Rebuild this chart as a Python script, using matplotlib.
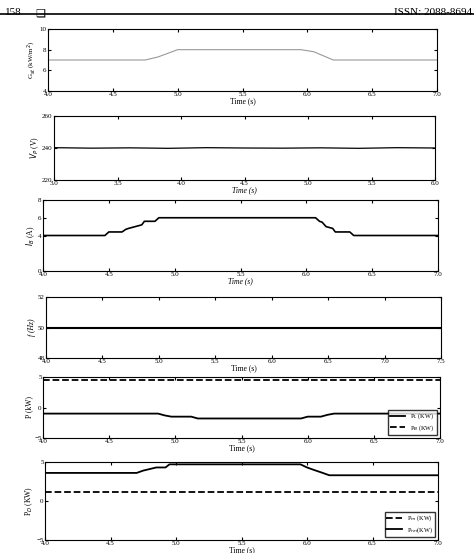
import numpy as np
import matplotlib.pyplot as plt

plt.rcParams['font.family'] = ['Liberation Serif', 'DejaVu Serif']

# irradiance
g_t = [4, 4.75, 4.85, 5.0, 5.95, 6.05, 6.2, 7]
g_v = [7, 7, 7.3, 8, 8, 7.8, 7, 7]

# voltage (small ripple around 240)
v_t = [3.0, 3.3, 3.6, 3.9, 4.2, 4.5, 4.8, 5.1, 5.4, 5.7, 6.0]
v_v = [240.2, 239.9, 240.1, 239.8, 240.2, 240.0, 239.9, 240.1, 239.8, 240.2, 240.0]

# current (steps)
i_t = [4, 4.47, 4.5, 4.6, 4.63, 4.65, 4.7, 4.75, 4.77, 4.85, 4.88, 6.07, 6.1, 6.12, 6.15, 6.2, 6.22, 6.33, 6.36, 7]
i_v = [4, 4, 4.4, 4.4, 4.7, 4.8, 5.0, 5.2, 5.6, 5.6, 6.0, 6.0, 5.6, 5.5, 5.0, 4.8, 4.4, 4.4, 4.0, 4.0]

# frequency
f_t = [4, 7.5]
f_v = [50, 50]

# load / battery powers
pl_t = [4, 4.87, 4.92, 4.97, 5.12, 5.17, 5.95, 6.0, 6.1, 6.15, 6.2, 7]
pl_v = [-1, -1, -1.3, -1.5, -1.5, -1.8, -1.8, -1.5, -1.5, -1.2, -1, -1]
pa_t = [4, 7]
pa_v = [4.5, 4.5]

# PV powers
pd_t = [4, 4.7, 4.75, 4.8, 4.85, 4.92, 4.95, 5.95, 6.0, 6.05, 6.12, 6.17, 7]
pd_v = [3.6, 3.6, 3.9, 4.1, 4.3, 4.3, 4.7, 4.7, 4.3, 4.0, 3.6, 3.3, 3.3]
pm_t = [4, 7]
pm_v = [1.2, 1.2]

fig = plt.figure(figsize=(4.74, 5.53), dpi=100)
W, H = 474, 553


def box(x0, y0, x1, y1):
    return fig.add_axes([x0 / W, 1 - y1 / H, (x1 - x0) / W, (y1 - y0) / H])


def style(ax, xl, italic=False):
    ax.tick_params(labelsize=5, length=2, direction='in', top=True, right=True, pad=1)
    ax.set_xlabel(xl, fontsize=5.5, labelpad=0, style='italic' if italic else 'normal')


fig.text(0.01, 0.985, '158', fontsize=8, va='top')
fig.text(0.075, 0.985, '\u274f', fontsize=8, va='top', family='DejaVu Sans')
fig.text(0.995, 0.985, 'ISSN: 2088-8694', fontsize=8, va='top', ha='right')
fig.add_artist(plt.Line2D([0, 1], [1 - 14 / H, 1 - 14 / H], color='k', lw=1.2))

ax = box(48, 29, 437, 91)
ax.plot(g_t, g_v, color='0.6', lw=0.8)
ax.set_xlim(4, 7); ax.set_ylim(4, 10); ax.set_yticks([4, 6, 8, 10])
ax.set_ylabel('G$_{st}$ (kW/m$^2$)', fontsize=5, labelpad=1)
style(ax, 'Time (s)')

ax = box(54, 116, 435, 180)
ax.plot(v_t, v_v, color='k', lw=0.9)
ax.set_xlim(3, 6); ax.set_ylim(220, 260); ax.set_yticks([220, 240, 260])
ax.set_ylabel('$V_P$ (V)', fontsize=5.5, labelpad=1)
style(ax, 'Time (s)', italic=True)

ax = box(43, 200, 438, 271)
ax.plot(i_t, i_v, color='k', lw=1.2)
ax.set_xlim(4, 7); ax.set_ylim(0, 8); ax.set_yticks([0, 4, 6, 8])
ax.set_ylabel('$I_B$ (A)', fontsize=5.5, labelpad=1)
style(ax, 'Time (s)', italic=True)

ax = box(46, 297, 441, 358)
ax.plot(f_t, f_v, color='k', lw=1.5)
ax.set_xlim(4, 7.5); ax.set_ylim(48, 52); ax.set_yticks([48, 50, 52])
ax.set_ylabel('f (Hz)', fontsize=5.5, labelpad=1, style='italic')
style(ax, 'Time (s)')

ax = box(43, 377, 440, 438)
ax.plot(pl_t, pl_v, color='k', lw=1.3, label='P$_L$ (KW)')
ax.plot(pa_t, pa_v, 'k--', lw=1.3, label='P$_B$ (KW)')
ax.set_xlim(4, 7); ax.set_ylim(-5, 5); ax.set_yticks([-5, 0, 5])
ax.set_ylabel('P (kW)', fontsize=5.5, labelpad=1)
ax.legend(loc='lower right', fontsize=4.5, handlelength=2.5, fancybox=False,
          edgecolor='k', borderpad=0.3, labelspacing=0.3)
style(ax, 'Time (s)')

ax = box(45, 462, 438, 540)
ax.plot(pm_t, pm_v, 'k--', lw=1.3, label='P$_m$ (KW)')
ax.plot(pd_t, pd_v, color='k', lw=1.3, label='P$_{ref}$(KW)')
ax.set_xlim(4, 7); ax.set_ylim(-5, 5); ax.set_yticks([-5, 0, 5])
ax.set_ylabel('P$_D$ (KW)', fontsize=5.5, labelpad=1)
ax.legend(loc='lower right', fontsize=4.5, handlelength=2.5, fancybox=False,
          edgecolor='k', borderpad=0.3, labelspacing=0.3)
style(ax, 'Time (s)')

fig.savefig('out.png', dpi=100)
